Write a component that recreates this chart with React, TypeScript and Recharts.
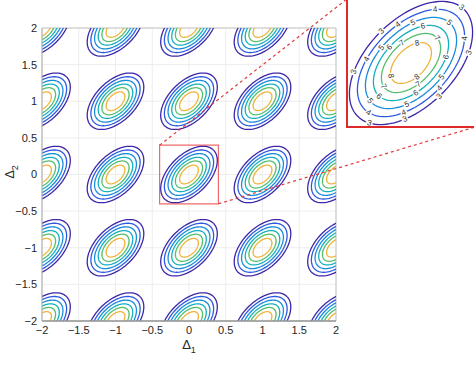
import React from 'react';
import { LineChart, Line, XAxis, YAxis, CartesianGrid, ReferenceArea, ReferenceLine, ReferenceDot } from 'recharts';

// contour levels and their half-width along Δ1
const levels = [3, 4, 5, 6, 7, 8];
const levelHalfWidth = [0.385, 0.335, 0.285, 0.235, 0.185, 0.128];
const levelColors = ['#3e26a8', '#2d5be0', '#1a8cdc', '#13b0c0', '#55be6c', '#eeb43a'];
const aspect = 1.73; // major / minor axis, major axis along 45°

const centersX = [-2, -1, 0, 1, 2];
const centersY = [-2, -1, 0, 1, 2];
const ticks = [-2, -1.5, -1, -0.5, 0, 0.5, 1, 1.5, 2];

// zoom box and where the inset corners sit in main-plot units
const zoomBox = { x1: -0.4, x2: 0.4, y1: -0.4, y2: 0.4 };
const insetTopLeft = { x: 2.15, y: 2.396 };
const insetBottomRight = { x: 3.89, y: 0.648 };

// contour labels in the inset (level, approx position)
const insetLabels: [number, number, number][] = [
  [3, 0.3, 0.33], [3, -0.181, 0.194], [3, -0.3625, -0.056], [3, -0.256, -0.369],
  [3, -0.0375, -0.344], [3, 0.169, -0.2], [3, 0.35, 0.0625],
  [4, 0.144, 0.319], [4, -0.081, 0.2375], [4, -0.275, 0.025], [4, -0.2625, -0.306],
  [4, -0.044, -0.3], [4, 0.169, -0.15], [4, 0.325, 0.15],
  [5, 0.0125, 0.25], [5, -0.194, 0.1], [5, -0.25, -0.231], [5, -0.025, -0.256],
  [5, 0.194, -0.0875], [5, 0.231, 0.244],
  [6, 0.075, 0.231], [6, -0.1375, 0.1], [6, -0.206, -0.2125], [6, 0.031, -0.1875], [6, 0.219, 0.0375],
  [7, -0.056, 0.125], [7, 0.1625, 0.156], [7, -0.175, -0.15], [7, 0.044, -0.125],
  [8, 0.0375, 0.125], [8, -0.1375, -0.0875], [8, 0.0375, -0.0875],
];

const FONT = '"Liberation Sans", Arial, sans-serif';
const minus = (v: number) => String(v).replace('-', '\u2212');

const c0 = Math.sqrt(2 / (1 + aspect * aspect));
const a0 = aspect * c0;
const b0 = c0;
const S = Math.SQRT1_2;

function ellipse(cx: number, cy: number, w: number) {
  const pts: { x: number; y: number | null }[] = [];
  const n = 90;
  for (let i = 0; i <= n; i++) {
    const t = (2 * Math.PI * i) / n;
    const u = w * a0 * Math.cos(t);
    const v = w * b0 * Math.sin(t);
    pts.push({ x: cx + (u - v) * S, y: cy + (u + v) * S });
  }
  return pts;
}

function levelData(idx: number, cxs: number[], cys: number[]) {
  const out: { x: number; y: number | null }[] = [];
  cxs.forEach((cx) =>
    cys.forEach((cy) => {
      out.push(...ellipse(cx, cy, levelHalfWidth[idx]));
      out.push({ x: cx, y: null });
    })
  );
  return out;
}

// snap a label onto its contour and give it the contour's direction
function placeLabel(level: number, x: number, y: number) {
  const w = levelHalfWidth[levels.indexOf(level)];
  const u = (x + y) * S;
  const v = (y - x) * S;
  const q = Math.sqrt((u * u) / (a0 * a0) + (v * v) / (b0 * b0));
  const k = w / q;
  const px = x * k;
  const py = y * k;
  const pu = (px + py) * S;
  const pv = (py - px) * S;
  const gu = pu / (a0 * a0);
  const gv = pv / (b0 * b0);
  const gx = (gu - gv) * S;
  const gy = (gu + gv) * S;
  let ang = (Math.atan2(-gx, -gy) * 180) / Math.PI;
  if (ang > 90) ang -= 180;
  if (ang < -90) ang += 180;
  return { x: px, y: py, ang };
}

const XLabel = ({ viewBox }: any) => (
  <text x={viewBox.x + viewBox.width / 2} y={viewBox.y + 28} textAnchor="middle" fontFamily={FONT} fontSize={13} fill="#262626">
    Δ<tspan dy={4} fontSize={9}>1</tspan>
  </text>
);

const YLabel = () => (
  <text x={0} y={0} transform="translate(14,172) rotate(-90)" textAnchor="middle" fontFamily={FONT} fontSize={13} fill="#262626">
    Δ<tspan dy={4} fontSize={9}>2</tspan>
  </text>
);

export default function App() {
  const tickStyle = { fontFamily: FONT, fontSize: 11, fill: '#262626' };
  return (
    <div style={{ position: 'absolute', left: 0, top: 0, width: 474, height: 367, overflow: 'hidden', background: '#fff' }}>
      <LineChart width={474} height={367} margin={{ top: 28, right: 138, bottom: 16, left: 8 }}>
        <CartesianGrid stroke="#ededed" />
        <XAxis
          type="number"
          dataKey="x"
          domain={[-2, 2]}
          ticks={ticks}
          allowDataOverflow
          height={30}
          tickSize={0}
          tickMargin={5}
          tickLine={false}
          axisLine={{ stroke: '#9a9a9a', strokeWidth: 1.5 }}
          tick={tickStyle}
          tickFormatter={minus}
          label={<XLabel />}
        />
        <YAxis
          type="number"
          dataKey="y"
          domain={[-2, 2]}
          ticks={ticks}
          allowDataOverflow
          width={34}
          tickSize={0}
          tickMargin={5}
          tickLine={false}
          axisLine={{ stroke: '#bdbdbd' }}
          tick={tickStyle}
          tickFormatter={minus}
          label={<YLabel />}
        />
        <ReferenceArea x1={-2} x2={2} y1={-2} y2={2} fill="none" stroke="#c4c4c4" />
        {levels.map((lv, i) => (
          <Line
            key={lv}
            data={levelData(i, centersX, centersY)}
            dataKey="y"
            type="linear"
            stroke={levelColors[i]}
            strokeWidth={1.3}
            dot={false}
            activeDot={false}
            isAnimationActive={false}
          />
        ))}
        <ReferenceArea {...zoomBox} fill="none" stroke="#ef6a6a" strokeWidth={1.2} ifOverflow="visible" />
        <ReferenceLine
          segment={[{ x: zoomBox.x1, y: zoomBox.y2 }, insetTopLeft]}
          stroke="#e03a3a"
          strokeDasharray="3 3"
          strokeWidth={1.2}
          ifOverflow="visible"
        />
        <ReferenceLine
          segment={[{ x: zoomBox.x2, y: zoomBox.y1 }, insetBottomRight]}
          stroke="#e03a3a"
          strokeDasharray="3 3"
          strokeWidth={1.2}
          ifOverflow="visible"
        />
      </LineChart>

      <div style={{ position: 'absolute', left: 347, top: -1, width: 128, height: 128, background: '#fff' }}>
        <LineChart width={128} height={128} margin={{ top: 0, right: 0, bottom: 0, left: 0 }}>
          <XAxis type="number" dataKey="x" domain={[zoomBox.x1, zoomBox.x2]} allowDataOverflow hide />
          <YAxis type="number" dataKey="y" domain={[zoomBox.y1, zoomBox.y2]} allowDataOverflow hide />
          {levels.map((lv, i) => (
            <Line
              key={lv}
              data={levelData(i, [0], [0])}
              dataKey="y"
              type="linear"
              stroke={levelColors[i]}
              strokeWidth={1.3}
              dot={false}
              activeDot={false}
              isAnimationActive={false}
            />
          ))}
          {insetLabels.map(([lv, x, y], k) => {
            const p = placeLabel(lv, x, y);
            return (
              <ReferenceDot
                key={k}
                x={p.x}
                y={p.y}
                r={0}
                ifOverflow="visible"
                shape={(s: any) => (
                  <text
                    x={s.cx}
                    y={s.cy}
                    transform={`rotate(${p.ang},${s.cx},${s.cy})`}
                    textAnchor="middle"
                    dominantBaseline="central"
                    fontFamily={FONT}
                    fontSize={8}
                    fill="#333"
                    stroke="#fff"
                    strokeWidth={3}
                    paintOrder="stroke"
                  >
                    {lv}
                  </text>
                )}
              />
            );
          })}
        </LineChart>
        <div style={{ position: 'absolute', left: -1, top: 0, width: 1.5, height: 128, background: '#e02a2a' }} />
        <div style={{ position: 'absolute', left: -1, top: 127, width: 130, height: 1.5, background: '#e02a2a' }} />
      </div>
    </div>
  );
}
